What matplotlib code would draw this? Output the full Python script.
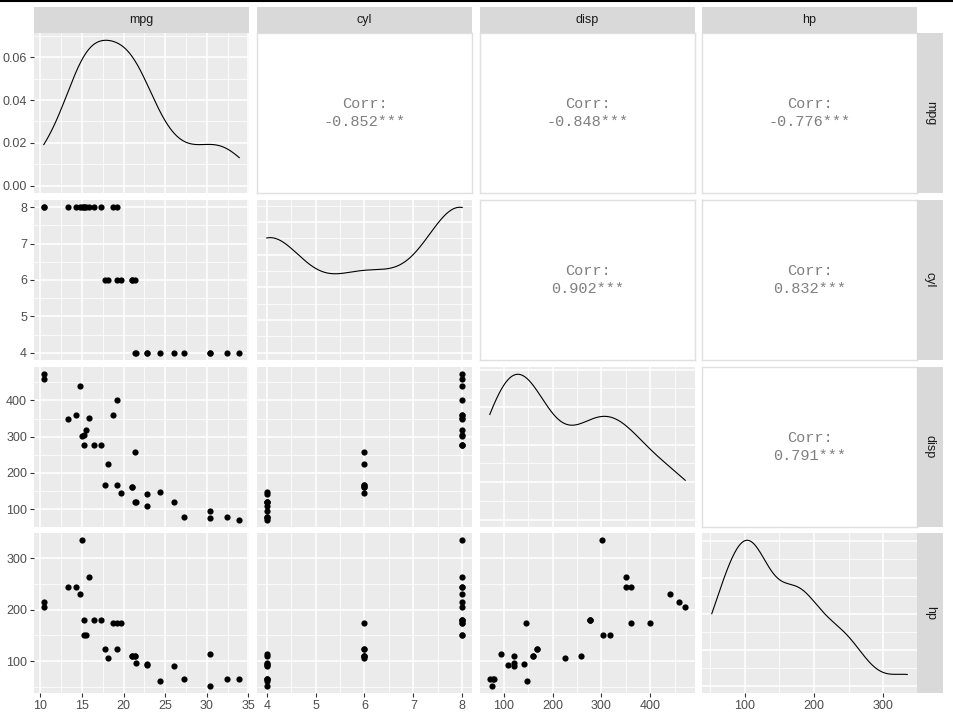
import numpy as np
import matplotlib
matplotlib.use('Agg')
import matplotlib.pyplot as plt
from matplotlib.ticker import MaxNLocator, FixedLocator, AutoMinorLocator

plt.rcParams['font.family'] = ['Liberation Sans', 'DejaVu Sans']

# ================= 数据 (mtcars 的四列) =================
var_names = ['mpg', 'cyl', 'disp', 'hp']
mpg = [21.0, 21.0, 22.8, 21.4, 18.7, 18.1, 14.3, 24.4, 22.8, 19.2, 17.8, 16.4, 17.3, 15.2, 10.4, 10.4,
       14.7, 32.4, 30.4, 33.9, 21.5, 15.5, 15.2, 13.3, 19.2, 27.3, 26.0, 30.4, 15.8, 19.7, 15.0, 21.4]
cyl = [6, 6, 4, 6, 8, 6, 8, 4, 4, 6, 6, 8, 8, 8, 8, 8, 8, 4, 4, 4, 4, 8, 8, 8, 8, 4, 4, 4, 8, 6, 8, 4]
disp = [160, 160, 108, 258, 360, 225, 360, 146.7, 140.8, 167.6, 167.6, 275.8, 275.8, 275.8, 472, 460,
        440, 78.7, 75.7, 71.1, 120.1, 318, 304, 350, 400, 79, 120.3, 95.1, 351, 145, 301, 121]
hp = [110, 110, 93, 110, 175, 105, 245, 62, 95, 123, 123, 180, 180, 180, 205, 215, 230, 66, 52, 65,
      97, 150, 150, 245, 175, 66, 91, 113, 264, 175, 335, 109]
# 上三角的相关系数文字
corr_labels = {(0, 1): '-0.852***', (0, 2): '-0.848***', (0, 3): '-0.776***',
               (1, 2): '0.902***', (1, 3): '0.832***', (2, 3): '0.791***'}
# 各变量的刻度
var_ticks = [[10, 15, 20, 25, 30, 35], [4, 5, 6, 7, 8], [100, 200, 300, 400], [100, 200, 300]]
dens_ticks = [0.00, 0.02, 0.04, 0.06]

data = [np.array(mpg, float), np.array(cyl, float), np.array(disp, float), np.array(hp, float)]


def kde_line(v, n=512):
    # R 的 density() 默认带宽 bw.nrd0，在数据范围内取值
    q75, q25 = np.percentile(v, [75, 25])
    lo = min(np.std(v, ddof=1), (q75 - q25) / 1.34)
    bw = 0.9 * lo * len(v) ** -0.2
    xs = np.linspace(v.min(), v.max(), n)
    ys = np.exp(-0.5 * ((xs[:, None] - v[None, :]) / bw) ** 2).sum(axis=1) / (len(v) * bw * np.sqrt(2 * np.pi))
    return xs, ys


def expand(lo, hi, f=0.05):
    d = hi - lo
    return lo - d * f, hi + d * f


# ================= 画布布局 (像素) =================
W, H = 954, 722
fig = plt.figure(figsize=(W / 100, H / 100), dpi=100)
col_x = [34, 257, 480, 702]
row_y = [33, 200, 367, 533]
pw, ph = 215, 160

bg = '#EBEBEB'
strip_col = '#D9D9D9'
tick_col = '#4D4D4D'


def px_axes(x, y, w, h):
    return fig.add_axes([x / W, 1 - (y + h) / H, w / W, h / H])


def style_grid(ax):
    ax.set_facecolor(bg)
    ax.grid(True, which='major', color='white', lw=1.1)
    ax.grid(True, which='minor', color='white', lw=0.55)
    ax.set_axisbelow(True)
    for s in ax.spines.values():
        s.set_visible(False)
    ax.tick_params(which='both', length=0, labelbottom=False, labelleft=False)


for i in range(4):        # 行
    for j in range(4):    # 列
        ax = px_axes(col_x[j], row_y[i], pw, ph)
        xv, yv = data[j], data[i]
        xlim = expand(xv.min(), xv.max())
        if i < j:
            # 上三角: 相关系数
            ax.set_facecolor('white')
            ax.set_xticks([])
            ax.set_yticks([])
            for s in ax.spines.values():
                s.set_color('#E0E0E0')
                s.set_linewidth(1.0)
            ax.text(0.5, 0.5, 'Corr:\n' + corr_labels[(i, j)], transform=ax.transAxes,
                    ha='center', va='center', family='Liberation Mono', fontsize=11,
                    color='#7F7F7F', linespacing=1.35)
        elif i == j:
            # 对角线: 密度曲线
            style_grid(ax)
            xs, ys = kde_line(xv)
            ax.plot(xs, ys, color='black', lw=0.8)
            ax.set_xlim(*xlim)
            ax.set_ylim(*expand(0, ys.max()))
            ax.xaxis.set_major_locator(FixedLocator(var_ticks[j]))
            ax.xaxis.set_minor_locator(AutoMinorLocator(2))
            if i == 0:
                ax.yaxis.set_major_locator(FixedLocator(dens_ticks))
            else:
                ax.yaxis.set_major_locator(MaxNLocator(5))
            ax.yaxis.set_minor_locator(AutoMinorLocator(2))
        else:
            # 下三角: 散点图
            style_grid(ax)
            ax.scatter(xv, yv, s=20, color='black', linewidths=0, zorder=3)
            ax.set_xlim(*xlim)
            ax.set_ylim(*expand(yv.min(), yv.max()))
            ax.xaxis.set_major_locator(FixedLocator(var_ticks[j]))
            ax.yaxis.set_major_locator(FixedLocator(var_ticks[i]))
            ax.xaxis.set_minor_locator(AutoMinorLocator(2))
            ax.yaxis.set_minor_locator(AutoMinorLocator(2))

        # 外侧坐标轴标签
        if i == 3:
            ax.tick_params(axis='x', which='major', length=3, color='#333333', width=0.8,
                           labelbottom=True, labelsize=9, labelcolor=tick_col, pad=2)
        if j == 0:
            if i == 0:
                ax.yaxis.set_major_formatter(matplotlib.ticker.FormatStrFormatter('%.2f'))
            ax.tick_params(axis='y', which='major', length=3, color='#333333', width=0.8,
                           labelleft=True, labelsize=9, labelcolor=tick_col, pad=2)

# ================= 分面标签 =================
for j in range(4):
    sax = px_axes(col_x[j], 7, pw, 26)
    sax.set_facecolor(strip_col)
    sax.set_xticks([])
    sax.set_yticks([])
    for s in sax.spines.values():
        s.set_visible(False)
    sax.text(0.5, 0.5, var_names[j], ha='center', va='center', fontsize=9, color='#1A1A1A')

for i in range(4):
    sax = px_axes(917, row_y[i], 26, ph)
    sax.set_facecolor(strip_col)
    sax.set_xticks([])
    sax.set_yticks([])
    for s in sax.spines.values():
        s.set_visible(False)
    sax.text(0.5, 0.5, var_names[i], ha='center', va='center', fontsize=9, color='#1A1A1A',
             rotation=-90)

# 顶部的黑色细线
fig.add_artist(plt.Line2D([0, 1], [1 - 1 / H, 1 - 1 / H], color='black', lw=1.5,
                          transform=fig.transFigure))

fig.savefig('out.png', dpi=100)
